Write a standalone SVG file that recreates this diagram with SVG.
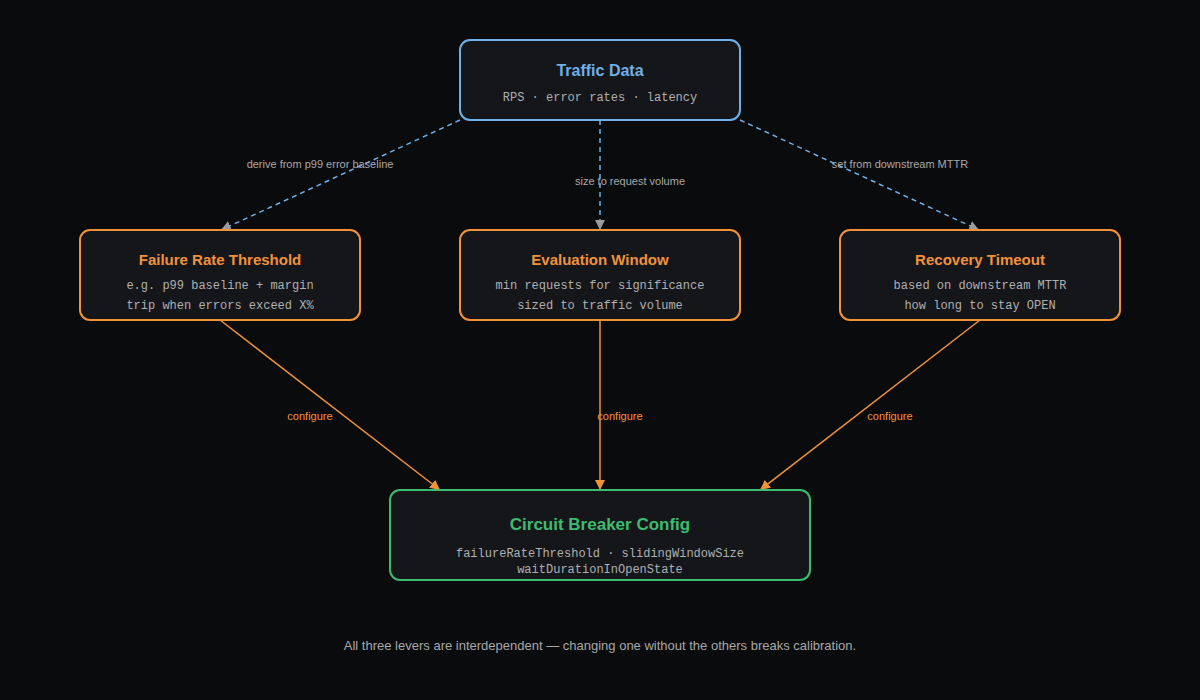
<svg xmlns="http://www.w3.org/2000/svg" width="1200" height="700" viewBox="0 0 1200 700">
<style>
.box{fill:#15161a;stroke-width:2}
.t{font-family:"Liberation Sans",Arial,sans-serif;font-weight:bold;text-anchor:middle}
.m{font-family:"Liberation Mono","DejaVu Sans Mono",monospace;font-size:12px;fill:#b0b0b0;text-anchor:middle}
.l{font-family:"Liberation Sans",Arial,sans-serif;font-size:11px;text-anchor:middle}
.d{stroke:#6fb0e8;stroke-width:1.5;stroke-dasharray:5,4;fill:none}
.o{stroke:#f0923a;stroke-width:1.5;fill:none}
</style>
<defs>
<marker id="ag" viewBox="0 0 10 10" refX="10" refY="5" markerWidth="10" markerHeight="10" markerUnits="userSpaceOnUse" orient="auto"><path d="M0,0L10,5L0,10z" fill="#9a9a9a"/></marker>
<marker id="ao" viewBox="0 0 10 10" refX="10" refY="5" markerWidth="10" markerHeight="10" markerUnits="userSpaceOnUse" orient="auto"><path d="M0,0L10,5L0,10z" fill="#f0923a"/></marker>
</defs>
<rect width="1200" height="700" fill="#0a0b0d"/>
<g id="connectors">
<path class="d" d="M460,120L221,230" marker-end="url(#ag)"/>
<path class="d" d="M600,120L600,230" marker-end="url(#ag)"/>
<path class="d" d="M740,120L979,230" marker-end="url(#ag)"/>
<path class="o" d="M220,320L440,490" marker-end="url(#ao)"/>
<path class="o" d="M600,320L600,490" marker-end="url(#ao)"/>
<path class="o" d="M980,320L760,490" marker-end="url(#ao)"/>
<text class="l" x="320" y="168" fill="#a8a8a8">derive from p99 error baseline</text>
<text class="l" x="630" y="185" fill="#a8a8a8">size to request volume</text>
<text class="l" x="900" y="168" fill="#a8a8a8">set from downstream MTTR</text>
<text class="l" x="310" y="420" fill="#f0923a">configure</text>
<text class="l" x="620" y="420" fill="#f0923a">configure</text>
<text class="l" x="890" y="420" fill="#f0923a">configure</text>
</g>
<g id="traffic">
<rect class="box" x="460" y="40" width="280" height="80" rx="10" stroke="#6fb0e8"/>
<text class="t" x="600" y="76" font-size="16" fill="#6fb0e8">Traffic Data</text>
<text class="m" x="600" y="101">RPS · error rates · latency</text>
</g>
<g id="failure">
<rect class="box" x="80" y="230" width="280" height="90" rx="10" stroke="#f0923a"/>
<text class="t" x="220" y="265" font-size="15" fill="#f0923a">Failure Rate Threshold</text>
<text class="m" x="220" y="289">e.g. p99 baseline + margin</text>
<text class="m" x="220" y="309">trip when errors exceed X%</text>
</g>
<g id="window">
<rect class="box" x="460" y="230" width="280" height="90" rx="10" stroke="#f0923a"/>
<text class="t" x="600" y="265" font-size="15" fill="#f0923a">Evaluation Window</text>
<text class="m" x="600" y="289">min requests for significance</text>
<text class="m" x="600" y="309">sized to traffic volume</text>
</g>
<g id="recovery">
<rect class="box" x="840" y="230" width="280" height="90" rx="10" stroke="#f0923a"/>
<text class="t" x="980" y="265" font-size="15" fill="#f0923a">Recovery Timeout</text>
<text class="m" x="980" y="289">based on downstream MTTR</text>
<text class="m" x="980" y="309">how long to stay OPEN</text>
</g>
<g id="config">
<rect class="box" x="390" y="490" width="420" height="90" rx="10" stroke="#3dbb70"/>
<text class="t" x="600" y="530" font-size="17" fill="#3dbb70">Circuit Breaker Config</text>
<text class="m" x="600" y="557" font-size="13">failureRateThreshold · slidingWindowSize</text>
<text class="m" x="600" y="573" font-size="13">waitDurationInOpenState</text>
</g>
<text x="600" y="650" font-family="Liberation Sans,Arial,sans-serif" font-size="13" fill="#a8a8a8" text-anchor="middle">All three levers are interdependent — changing one without the others breaks calibration.</text>
</svg>
